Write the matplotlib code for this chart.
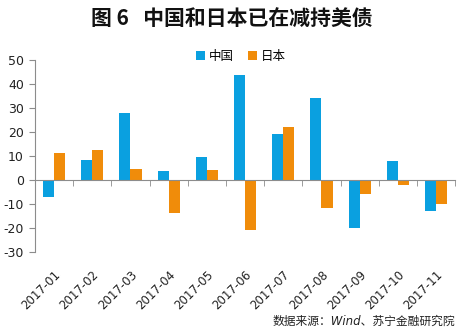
import matplotlib
matplotlib.use("Agg")
import matplotlib.pyplot as plt
import numpy as np

plt.rcParams['font.family'] = ['Noto Sans CJK SC', 'DejaVu Sans']
plt.rcParams['axes.unicode_minus'] = False
latin_first = ['DejaVu Sans', 'Noto Sans CJK SC']

months = ["2017-01", "2017-02", "2017-03", "2017-04", "2017-05", "2017-06",
          "2017-07", "2017-08", "2017-09", "2017-10", "2017-11"]
china = [-7.1, 8.5, 28.2, 4.0, 9.7, 44.0, 19.3, 34.3, -19.7, 8.2, -12.6]
japan = [11.4, 12.6, 4.9, -13.5, 4.4, -20.6, 22.2, -11.4, -5.6, -1.8, -9.9]

blue = "#0AA0E0"
orange = "#F08C0A"
grey = "#8C8C8C"
text_col = "#222222"

fig = plt.figure(figsize=(4.64, 3.33), dpi=100)
ax = fig.add_axes([0.0754, 0.2423, 0.9056, 0.5767])

x = np.arange(len(months))
w = 0.29
ax.bar(x - w / 2, china, width=w, color=blue, label="中国")
ax.bar(x + w / 2, japan, width=w, color=orange, label="日本")

ax.set_xlim(-0.5, len(months) - 0.5)
ax.set_ylim(-30, 50)
ax.set_yticks(range(-30, 51, 10))

for s in ["top", "right"]:
    ax.spines[s].set_visible(False)
ax.spines["bottom"].set_position(("data", 0))
ax.spines["bottom"].set_color(grey)
ax.spines["left"].set_color(grey)
ax.spines["left"].set_bounds(-30, 50)

ax.tick_params(axis="y", direction="out", length=4, color=grey,
               labelsize=9, labelcolor=text_col, pad=4)
for lab in ax.get_yticklabels():
    lab.set_family(latin_first)

ax.set_xticks(x)
ax.set_xticklabels(months, rotation=45, ha="right", rotation_mode="anchor",
                   family=latin_first)
ax.tick_params(axis="x", which="major", length=0, pad=63,
               labelsize=8.5, labelcolor=text_col)
ax.set_xticks(np.arange(-0.5, len(months), 1.0), minor=True)
ax.tick_params(axis="x", which="minor", direction="out", length=4, color=grey)

fig.text(0.5, 0.945, "图 6   中国和日本已在减持美债", ha="center", va="center",
         fontsize=15, fontweight="bold", color="#111111")

ax.legend(loc="upper center", bbox_to_anchor=(0.49, 1.08), ncol=2, frameon=False,
          fontsize=9, handlelength=0.7, handleheight=0.7, handletextpad=0.3,
          columnspacing=1.2, borderaxespad=0)

fig.text(0.98, 0.035, "数据来源：Wind、苏宁金融研究院", ha="right", va="center",
         fontsize=8.5, style="italic", color=text_col, family=latin_first)

fig.savefig("out.png", dpi=100)
